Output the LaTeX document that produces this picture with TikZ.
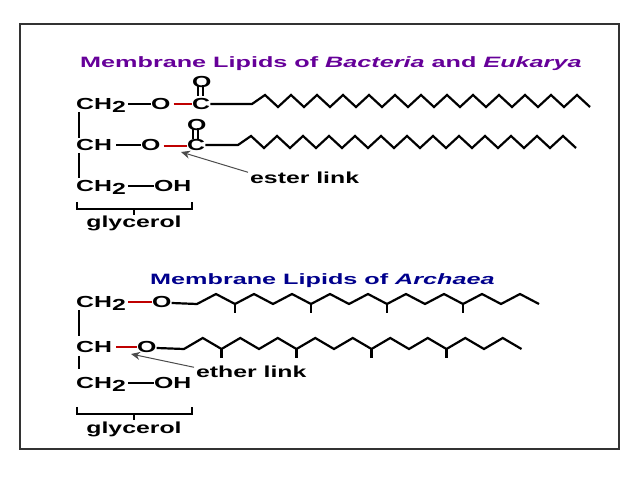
\documentclass[tikz,border=0pt]{standalone}
\usepackage{fontspec}
\setmainfont{Liberation Sans}
\usetikzlibrary{arrows.meta}
\newcommand{\lb}[1]{\scalebox{1.55}[1]{#1}}
\begin{document}
\begin{tikzpicture}[x=1pt,y=-1pt,
  lbl/.style={font=\bfseries\fontsize{16}{16}\selectfont, inner sep=0pt, anchor=base west},
  bond/.style={line width=2.2pt, black},
  rbond/.style={line width=2.2pt, red!75!black},
  thin/.style={line width=1.2pt, black},
  arr/.style={line width=1pt, gray!60!black, -{Stealth[length=9pt,width=8pt]}}]
\useasboundingbox (0,0) rectangle (638,478);
\draw[line width=1.6pt, black!80] (20,24) rectangle (619,449);
% titles
\node[anchor=base west, inner sep=0pt, text=violet!80!blue] (t1) at (80,68)
  {\scalebox{1.68}[1]{\bfseries\fontsize{15}{15}\selectfont Membrane Lipids of \textit{Bacteria} and \textit{Eukarya}}};
\node[anchor=base west, inner sep=0pt, text=blue!55!black] (t2) at (150,285)
  {\scalebox{1.68}[1]{\bfseries\fontsize{15}{15}\selectfont Membrane Lipids of \textit{Archaea}}};
% ---------- bacteria ----------
\node[lbl] (a1) at (76,110) {\lb{CH\raisebox{-3pt}{2}}};
\node[lbl] (ao1) at (151,110) {\lb{O}};
\node[lbl] (ac1) at (192,110) {\lb{C}};
\node[lbl] (aco1) at (192,88) {\lb{O}};
\node[lbl] (a2) at (76,151) {\lb{CH}};
\node[lbl] (ao2) at (141,151) {\lb{O}};
\node[lbl] (ac2) at (187,151) {\lb{C}};
\node[lbl] (aco2) at (187,131) {\lb{O}};
\node[lbl] (a3) at (76,192) {\lb{CH\raisebox{-3pt}{2}}};
\node[lbl] (aoh) at (154,192) {\lb{OH}};
\draw[bond] (128,104) -- (ao1.west|-0,104);
\draw[rbond] (ao1.east|-0,104) ++(3,0) -- (ac1.west|-0,104);
\draw[bond] (198,85) -- (198,96) (203,85) -- (203,96);
\draw[bond] (ac1.east|-0,104) -- (252,104)
  \foreach \i in {1,...,26}{ -- ({252+13*\i},{mod(\i,2)==1 ? 95 : 107}) };
\draw[bond] (116,145) -- (ao2.west|-0,145);
\draw[rbond] (ao2.east|-0,146) ++(3,0) -- (ac2.west|-0,146);
\draw[bond] (193,128) -- (193,139) (198,128) -- (198,139);
\draw[bond] (ac2.east|-0,145) -- (238,145)
  \foreach \i in {1,...,26}{ -- ({238+13*\i},{mod(\i,2)==1 ? 136 : 148}) };
\draw[bond] (128,186) -- (aoh.west|-0,186);
\draw[bond] (79,112) -- (79,138) (79,153) -- (79,178);
\draw[thin] (77,202) -- (77,209) -- (192,209) -- (192,202) (134,209) -- (134,215);
\node[lbl, anchor=base] (g1) at (134,228) {\lb{glycerol}};
\node[lbl, anchor=base west] (el) at (250,184) {\lb{ester link}};
\draw[arr] (el.west) ++(-2,-6) -- (181,152);
% ---------- archaea ----------
\node[lbl] (b1) at (76,308) {\lb{CH\raisebox{-3pt}{2}}};
\node[lbl] (bo1) at (152,308) {\lb{O}};
\node[lbl] (b2) at (76,353) {\lb{CH}};
\node[lbl] (bo2) at (137,353) {\lb{O}};
\node[lbl] (b3) at (76,389) {\lb{CH\raisebox{-3pt}{2}}};
\node[lbl] (boh) at (154,389) {\lb{OH}};
\draw[rbond] (128,302) -- (bo1.west|-0,302);
\draw[bond] (bo1.east|-0,303) -- (197,304)
  \foreach \i in {1,...,18}{ -- ({197+19*\i},{mod(\i,2)==1 ? 294 : 304}) };
\foreach \k in {2,6,10,14} \draw[bond] ({197+19*\k},304) -- ({197+19*\k},313);
\draw[rbond] (116,347) -- (bo2.west|-0,347);
\draw[bond] (bo2.east|-0,348) -- (184,349)
  \foreach \i in {1,...,18}{ -- ({184+18.75*\i},{mod(\i,2)==1 ? 338 : 349}) };
\foreach \k in {2,6,10,14} \draw[bond] ({184+18.75*\k},349) -- ({184+18.75*\k},358);
\draw[bond] (128,383) -- (boh.west|-0,383);
\draw[bond] (79,310) -- (79,336) (79,356) -- (79,369);
\draw[thin] (77,407) -- (77,414) -- (192,414) -- (192,407) (134,414) -- (134,420);
\node[lbl, anchor=base] (g2) at (134,434) {\lb{glycerol}};
\node[lbl, anchor=base west] (etl) at (196,378) {\lb{ether link}};
\draw[arr] (etl.west) ++(-2,-5) -- (131,354);
\end{tikzpicture}
\end{document}
